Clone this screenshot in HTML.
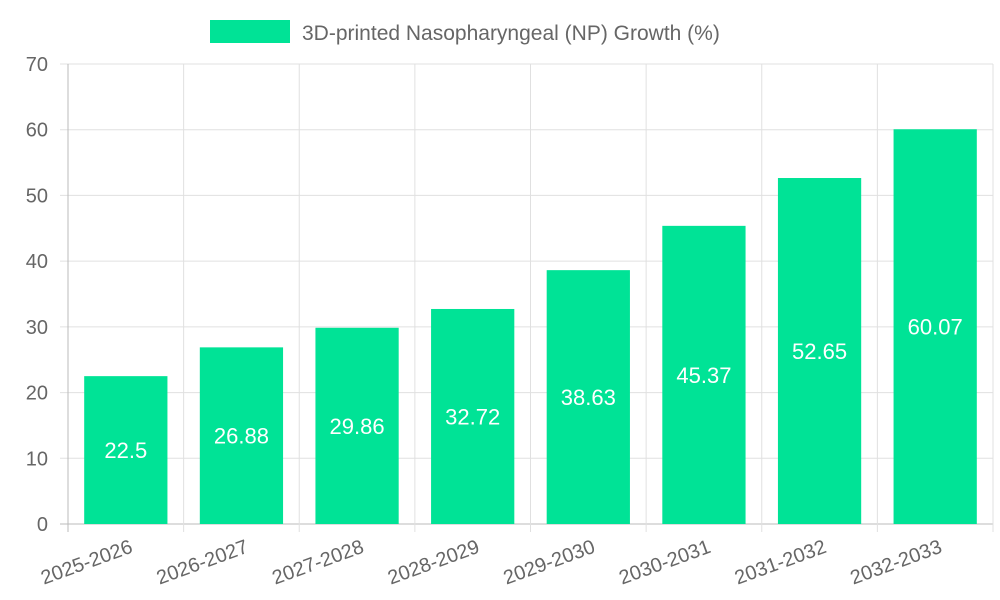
<!DOCTYPE html>
<html><head><meta charset="utf-8"><style>
html,body{margin:0;padding:0;background:#fff;}
svg{display:block;font-family:"Liberation Sans",sans-serif;}
</style></head><body>
<svg id="chart" width="1000" height="600"></svg>
<script>
const categories=["2025-2026","2026-2027","2027-2028","2028-2029","2029-2030","2030-2031","2031-2032","2032-2033"];
const values=[22.5,26.88,29.86,32.72,38.63,45.37,52.65,60.07];
const yTicks=[0,10,20,30,40,50,60,70];
const NS="http://www.w3.org/2000/svg";
const svg=document.getElementById('chart');
const L=68,R=993,T=64,B=524,yMax=70;
const bw=(R-L)/categories.length;
const y=v=>B-(v/yMax)*(B-T);
const x=i=>L+i*bw;
function mk(t,a,p){const e=document.createElementNS(NS,t);for(const k in a)e.setAttribute(k,a[k]);(p||svg).appendChild(e);return e;}
// legend
const lg=mk('g',{});


mk('rect',{x:210,y:20,width:80,height:23,fill:'#00e396'},lg);
const lt=mk('text',{x:302,y:40,'font-size':21,fill:'#666'},lg);lt.textContent="3D-printed Nasopharyngeal (NP) Growth (%)";
// grid
const grid=mk('g',{});


yTicks.forEach(t=>{
 mk('line',{x1:60,x2:R,y1:y(t),y2:y(t),stroke:t===0?'#bbb':'#e0e0e0','stroke-width':1},grid);
 const tx=mk('text',{x:48,y:y(t)+7,'text-anchor':'end','font-size':20,fill:'#666'},grid);
 
 
 tx.textContent=t;
});
for(let i=0;i<=categories.length;i++){
 mk('line',{x1:x(i),x2:x(i),y1:T,y2:B+8,stroke:i===0?'#bbb':'#e0e0e0','stroke-width':1},grid);
}
// bars
categories.forEach((c,i)=>{
 const w=bw*0.72,bx=x(i)+(bw-w)/2,top=y(values[i]);
 const r=mk('rect',{x:bx,y:top,width:w,height:B-top,fill:'#00e396'});
 
 
 const vl=mk('text',{x:bx+w/2,y:(top+B)/2+8,'text-anchor':'middle','font-size':22,fill:'#fff'});
 
 
 vl.textContent=values[i];
 const cx=x(i)+bw/2+8;
 const xl=mk('text',{x:cx,y:B+28,'text-anchor':'end','font-size':20,fill:'#666',transform:`rotate(-20 ${cx} ${B+28})`});
 
 
 xl.textContent=c;
});
</script>
</body></html>
